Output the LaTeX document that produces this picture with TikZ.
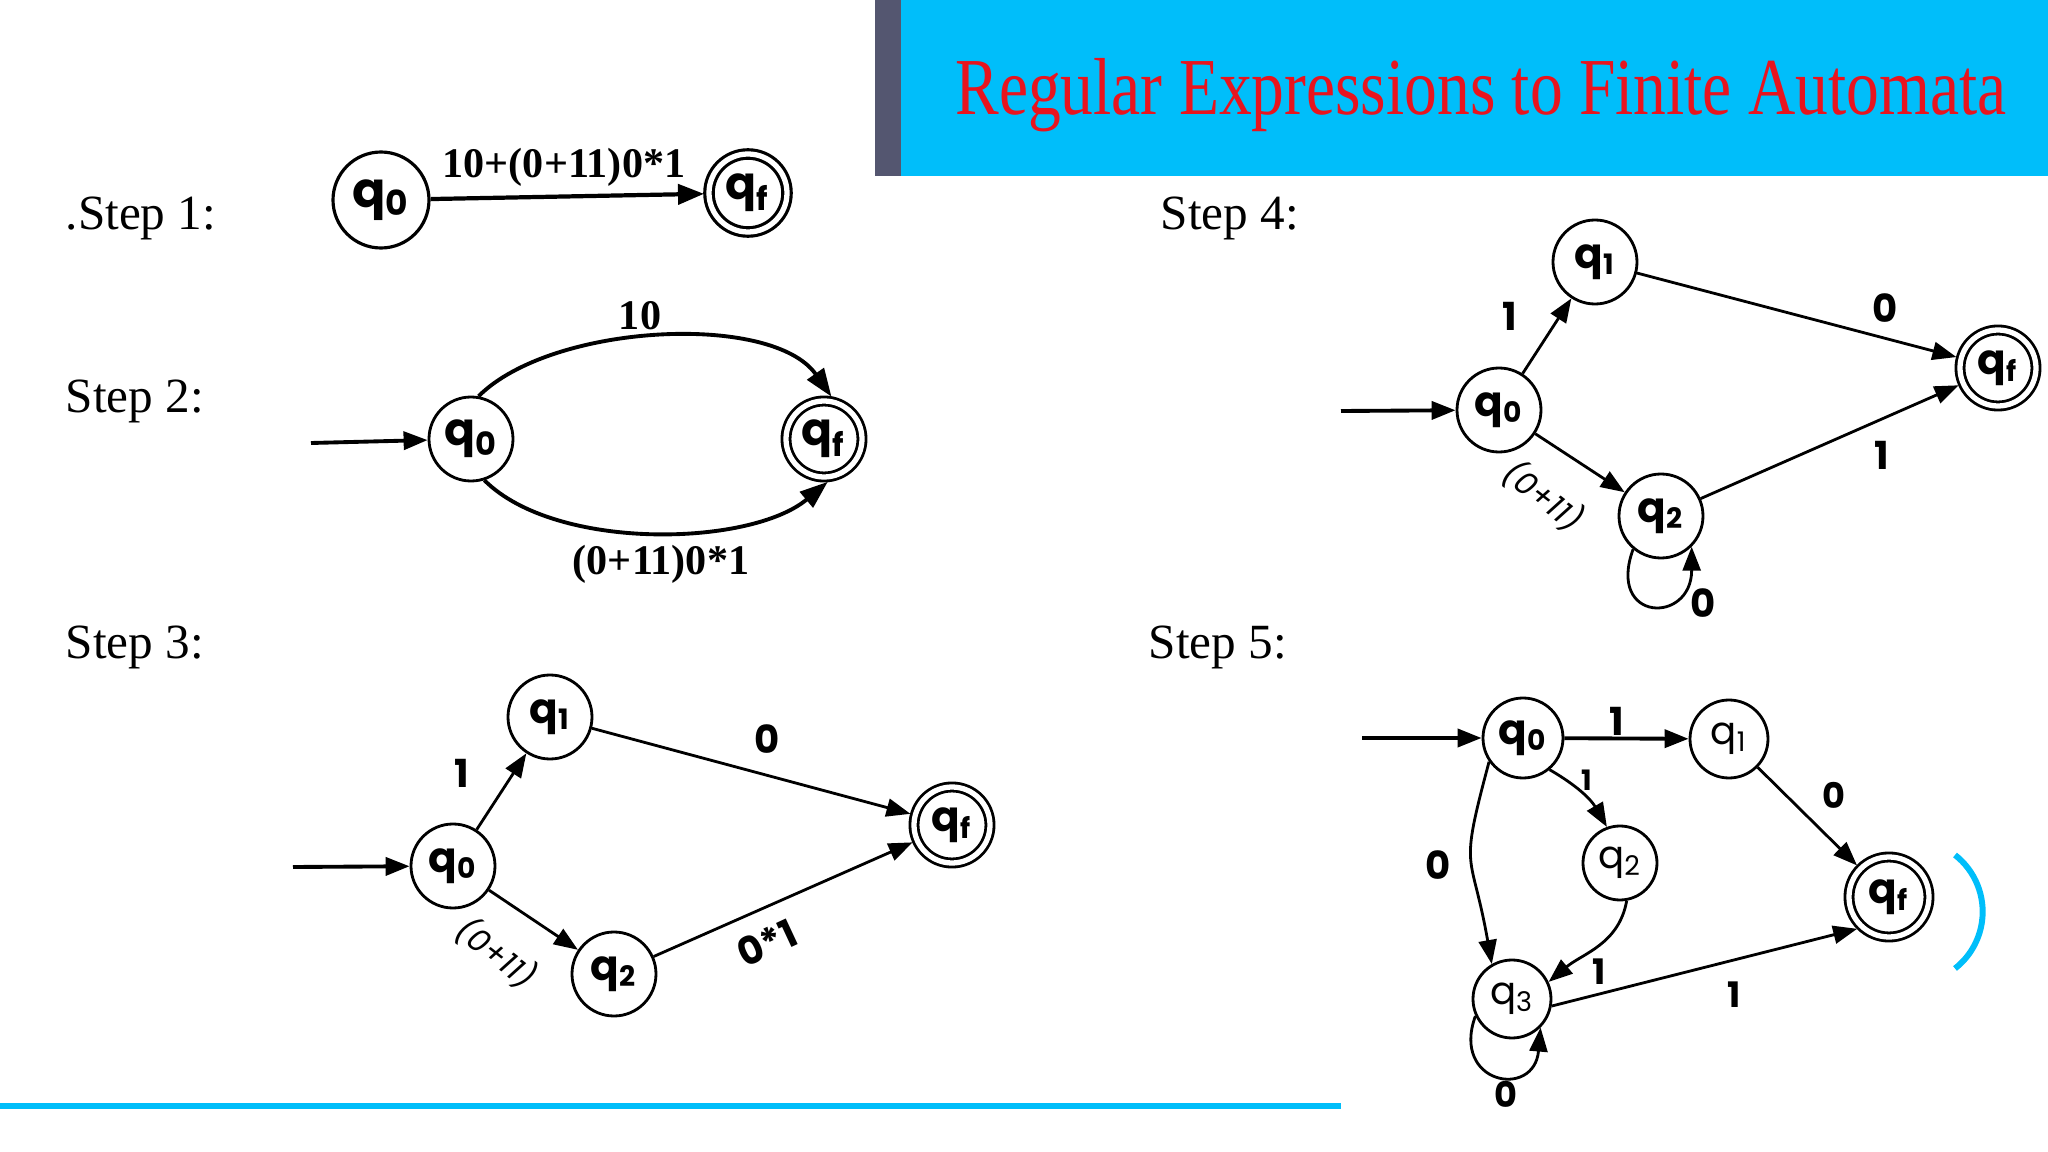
\documentclass[tikz,border=0pt]{standalone}
\usepackage{fontspec}
\setmainfont{Liberation Serif}
\newfontfamily\gothic{Poppins}
\usetikzlibrary{arrows.meta}

\definecolor{bannercyan}{RGB}{0,190,250}
\definecolor{bannergrey}{RGB}{84,86,112}
\definecolor{titlered}{RGB}{232,20,30}

\newcommand{\qsub}[1]{q\textsubscript{#1}}

\tikzset{
  state/.style={circle, draw, line width=0.8pt, inner sep=0pt, minimum size=0.84cm,
    font=\gothic\bfseries\fontsize{12}{12}\selectfont},
  accept/.style={state, double, double distance=1.5pt, minimum size=0.76cm, outer sep=0.05cm},
  trans/.style={line width=0.8pt, -{Triangle[length=0.24cm,width=0.18cm]}},
  init/.style={trans, line width=1.1pt},
  lbl/.style={inner sep=0.5pt, font=\gothic\bfseries\fontsize{11}{11}\selectfont},
  rexp/.style={font=\bfseries\fontsize{12}{12}\selectfont},
  steptext/.style={anchor=west, inner sep=0pt, font=\fontsize{14}{16}\selectfont},
}

\begin{document}
\begin{tikzpicture}
\useasboundingbox (0,0) rectangle (20.48,-11.52);

\fill[bannercyan] (8.75,0) rectangle (20.48,-1.76);
\fill[bannergrey] (8.75,0) rectangle (9.01,-1.76);
\node[anchor=base, text=titlered, font=\fontsize{23}{23}\selectfont] (title) at (14.81,-1.15)
  {\scalebox{0.81}[1]{Regular Expressions to Finite Automata}};

\node[steptext] (step1) at (0.65,-2.18) {.Step 1:};
\node[steptext] (step2) at (0.65,-4.01) {Step 2:};
\node[steptext] (step3) at (0.65,-6.47) {Step 3:};
\node[steptext] (step4) at (11.60,-2.18) {Step 4:};
\node[steptext] (step5) at (11.48,-6.47) {Step 5:};

% step 1
\node[state, line width=0.9pt, minimum size=0.96cm, font=\gothic\bfseries\fontsize{14}{14}\selectfont] (s1q0) at (3.81,-2.00) {\qsub{0}};
\node[accept, line width=0.9pt, minimum size=0.78cm, font=\gothic\bfseries\fontsize{13}{13}\selectfont] (s1qf) at (7.48,-1.93) {\qsub{f}};
\draw[trans, line width=1.2pt, -{Triangle[length=0.26cm,width=0.2cm]}] (s1q0) -- (s1qf);
\node[rexp] (s1r) at (5.64,-1.67) {10+(0+11)0*1};

% step 2
\coordinate (s2in) at (3.11,-4.43);
\node[state, font=\gothic\bfseries\fontsize{13}{13}\selectfont] (s2q0) at (4.71,-4.39) {\qsub{0}};
\node[accept, font=\gothic\bfseries\fontsize{13}{13}\selectfont] (s2qf) at (8.24,-4.39) {\qsub{f}};
\draw[init] (s2in) -- (s2q0);
\draw[trans, line width=1.1pt, -{Triangle[length=0.28cm,width=0.2cm]}] (s2q0.80) to[out=45,in=125,looseness=0.75] (s2qf.80);
\draw[trans, line width=1.1pt, -{Triangle[length=0.28cm,width=0.2cm]}] (s2q0.-72) to[out=-45,in=-140,looseness=0.75] (s2qf.-85);
\node[rexp] (s2a) at (6.40,-3.16) {10};
\node[rexp] (s2b) at (6.61,-5.64) {(0+11)0*1};

% step 3
\coordinate (s3in) at (2.93,-8.67);
\node[state] (s3q0) at (4.53,-8.66) {\qsub{0}};
\node[state] (s3q1) at (5.50,-7.17) {\qsub{1}};
\node[state] (s3q2) at (6.14,-9.74) {\qsub{2}};
\node[accept] (s3qf) at (9.52,-8.25) {\qsub{f}};
\draw[init] (s3in) -- (s3q0);
\draw[trans] (s3q0) -- (s3q1);
\draw[trans] (s3q1) -- (s3qf);
\draw[trans] (s3q0) -- (s3q2);
\draw[trans] (s3q2) -- (s3qf);
\node[lbl] (s3a) at (4.62,-7.73) {1};
\node[lbl] (s3b) at (7.67,-7.39) {0};
\node[lbl, font=\gothic\itshape\fontsize{9}{9}\selectfont, rotate=-38] (s3c) at (4.96,-9.53) {(0+11)};
\node[lbl, rotate=25] (s3d) at (7.67,-9.43) {0*1};

% step 4
\coordinate (s4in) at (13.41,-4.11);
\node[state] (s4q0) at (14.99,-4.10) {\qsub{0}};
\node[state] (s4q1) at (15.95,-2.62) {\qsub{1}};
\node[state] (s4q2) at (16.61,-5.16) {\qsub{2}};
\node[accept] (s4qf) at (19.98,-3.68) {\qsub{f}};
\draw[init] (s4in) -- (s4q0);
\draw[trans] (s4q0) -- (s4q1);
\draw[trans] (s4q1) -- (s4qf);
\draw[trans] (s4q0) -- (s4q2);
\draw[trans] (s4q2) -- (s4qf);
\draw[trans] (s4q2.-130) to[out=-110,in=-90,looseness=3.4] (s4q2.-45);
\node[lbl] (s4a) at (15.10,-3.16) {1};
\node[lbl] (s4b) at (18.85,-3.08) {0};
\node[lbl, font=\gothic\itshape\fontsize{9}{9}\selectfont, rotate=-38] (s4c) at (15.43,-4.96) {(0+11)};
\node[lbl] (s4d) at (18.82,-4.55) {1};
\node[lbl] (s4e) at (17.03,-6.03) {0};

% step 5
\coordinate (s5in) at (13.62,-7.38);
\node[state, minimum size=0.8cm] (s5q0) at (15.23,-7.38) {\qsub{0}};
\node[state, minimum size=0.78cm, font=\gothic\fontsize{11}{11}\selectfont] (s5q1) at (17.29,-7.39) {\qsub{1}};
\node[state, minimum size=0.74cm, font=\gothic\fontsize{11}{11}\selectfont] (s5q2) at (16.20,-8.63) {\qsub{2}};
\node[state, minimum size=0.78cm, font=\gothic\fontsize{11}{11}\selectfont] (s5q3) at (15.12,-9.99) {\qsub{3}};
\node[accept, minimum size=0.8cm] (s5qf) at (18.89,-8.97) {\qsub{f}};
\draw[init] (s5in) -- (s5q0);
\draw[trans, line width=1.1pt] (s5q0) -- (s5q1);
\draw[trans] (s5q1) -- (s5qf);
\draw[trans] (s5q0.-50) to[bend left=15] (s5q2.110);
\draw[trans] (s5q0.215) to[out=-105,in=100,looseness=1.5] (s5q3.120);
\draw[trans] (s5q2.-80) to[out=-100,in=40] (s5q3.25);
\draw[trans] (s5q3.-10) -- (s5qf.-135);
\draw[trans] (s5q3.205) to[out=250,in=-95,looseness=2.8] (s5q3.-45);
\node[lbl] (s5a) at (16.17,-7.21) {1};
\node[lbl, font=\gothic\bfseries\fontsize{8}{8}\selectfont] (s5b) at (15.87,-7.80) {1};
\node[lbl] (s5c) at (14.38,-8.65) {0};
\node[lbl, font=\gothic\bfseries\fontsize{10}{10}\selectfont] (s5d) at (18.34,-7.95) {0};
\node[lbl, font=\gothic\bfseries\fontsize{10}{10}\selectfont] (s5e) at (15.99,-9.72) {1};
\node[lbl, font=\gothic\bfseries\fontsize{10}{10}\selectfont] (s5f) at (17.34,-9.95) {1};
\node[lbl, font=\gothic\bfseries\fontsize{10}{10}\selectfont] (s5g) at (15.06,-10.94) {0};

% decoration
\draw[bannercyan, line width=1.8pt] (0,-11.06) -- (13.41,-11.06);
\draw[bannercyan, line width=1.7pt] (19.55,-8.55) arc[start angle=52, end angle=-52, radius=0.72];
\end{tikzpicture}
\end{document}
